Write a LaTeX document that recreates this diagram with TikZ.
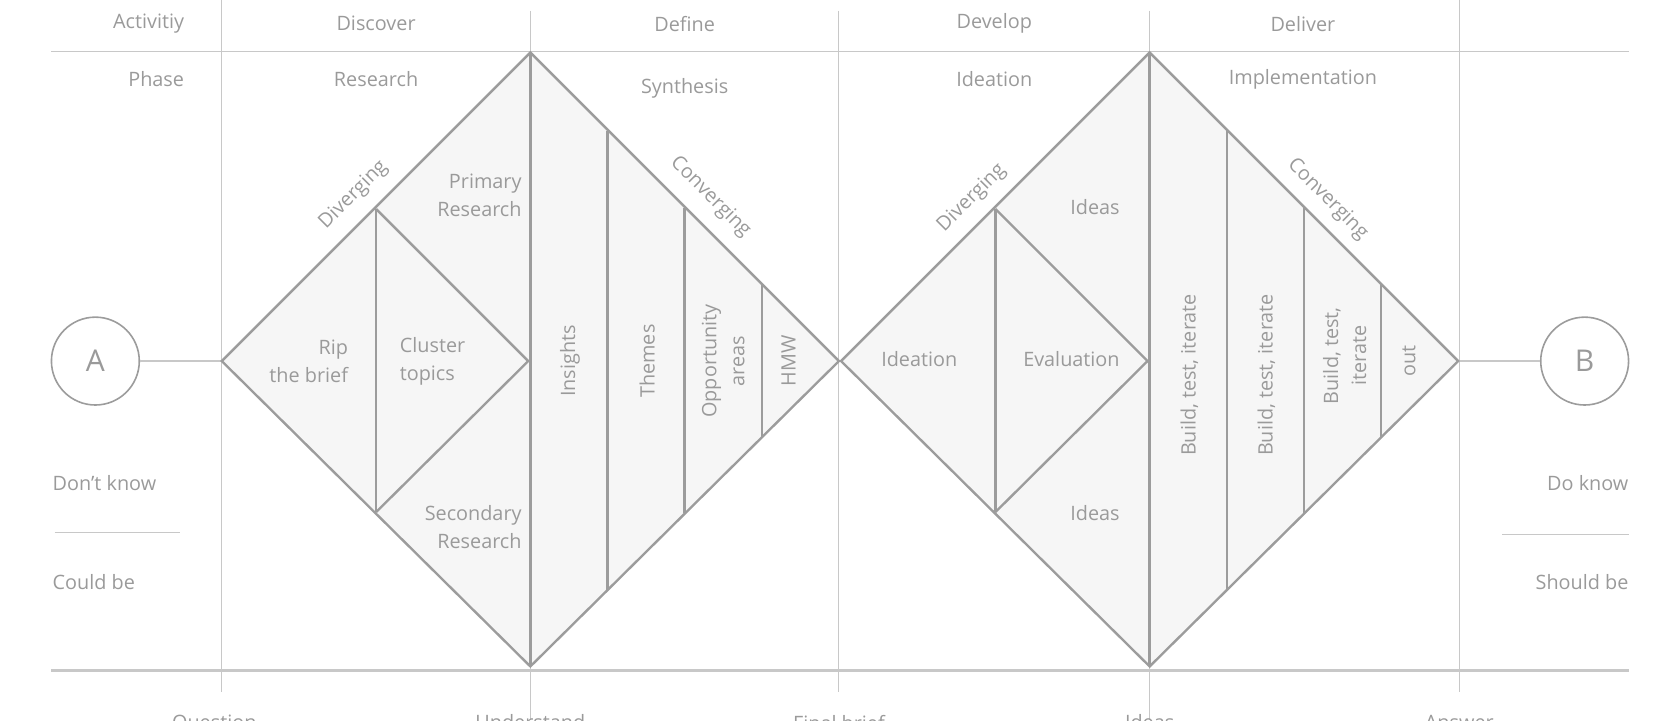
\documentclass[tikz,border=0pt]{standalone}
\usepackage{fontspec}
\setmainfont{Open Sans}
\begin{document}
\begin{tikzpicture}[x=1pt,y=-1pt,
  txt/.style={text=tg,font=\fontsize{18.5}{26}\selectfont,inner sep=0pt},
  shp/.style={draw=sg,line width=2.2pt,fill=fl,line join=miter},
  inn/.style={draw=sg,line width=2.2pt},
  grid/.style={draw=lg,line width=1pt},
  circ/.style={draw=sg,line width=1.5pt,circle,minimum size=82pt,inner sep=0pt,text=tg,font=\fontsize{28}{30}\selectfont}]
\definecolor{tg}{HTML}{9A9A9A}
\definecolor{sg}{HTML}{9C9C9C}
\definecolor{lg}{HTML}{C8C8C8}
\definecolor{fl}{HTML}{F6F6F6}
\useasboundingbox (0,0) rectangle (1568,672);
% grid
\draw[grid] (48,48) -- (1520,48);
\draw[draw=lg,line width=2.5pt] (48,626) -- (1520,626);
\draw[grid] (207,0) -- (207,646);
\draw[grid] (495,10) -- (495,672);
\draw[grid] (783,10) -- (783,646);
\draw[grid] (1073,10) -- (1073,672);
\draw[grid] (1362,0) -- (1362,646);
\draw[grid] (51,497) -- (168,497);
\draw[grid] (1402,499) -- (1520,499);
% circles
\node[circ] (A) at (89,337) {A};
\node[circ] (B) at (1479,337) {B};
\coordinate (L1) at (207,337);
\coordinate (R2) at (1361,337);
\draw[grid,line width=1.5pt] (A) -- (L1);
\draw[grid,line width=1.5pt] (R2) -- (B);
% diamond 1
\draw[shp] (207,337) -- (495,49) -- (783,337) -- (495,622) -- cycle;
\draw[inn] (351,195) -- (351,478);
\draw[inn] (351,195) -- (493,337) -- (351,478);
\draw[inn] (495,49) -- (495,622);
\draw[inn] (567,122) -- (567,551);
\draw[inn] (639,194) -- (639,479);
\draw[inn] (711,266) -- (711,408);
% diamond 2
\draw[shp] (785,337) -- (1073,49) -- (1361,337) -- (1073,622) -- cycle;
\draw[inn] (929,195) -- (929,478);
\draw[inn] (929,195) -- (1071,337) -- (929,478);
\draw[inn] (1073,49) -- (1073,622);
\draw[inn] (1145,122) -- (1145,551);
\draw[inn] (1217,194) -- (1217,479);
\draw[inn] (1289,266) -- (1289,408);
% header texts
\node[txt,anchor=east] (t1) at (172,22) {Activitiy};
\node[txt] (t2) at (351,22) {Discover};
\node[txt] (t3) at (639,22) {Define};
\node[txt] (t4) at (928,22) {Develop};
\node[txt] (t5) at (1216,22) {Deliver};
\node[txt,anchor=east] (p1) at (172,74) {Phase};
\node[txt] (p2) at (351,74) {Research};
\node[txt] (p3) at (639,82) {Synthesis};
\node[txt] (p4) at (928,74) {Ideation};
\node[txt] (p5) at (1216,74) {Implementation};
% diagonal labels
\node[txt,rotate=45] (dv1) at (330,182) {Diverging};
\node[txt,rotate=-45] (cv1) at (663,184) {Converging};
\node[txt,rotate=45] (dv2) at (907,185) {Diverging};
\node[txt,rotate=-45] (cv2) at (1239,186) {Converging};
% diamond 1 labels
\node[txt,align=right,anchor=east] (pr) at (487,182) {Primary\\Research};
\node[txt,align=right,anchor=east] (rb) at (325,337) {Rip\\the brief};
\node[txt,align=left,anchor=west] (ct) at (373,337) {Cluster\\topics};
\node[txt,align=right,anchor=east] (sr) at (487,492) {Secondary\\Research};
\node[txt,rotate=90] (ins) at (532,337) {Insights};
\node[txt,rotate=90] (th) at (604,337) {Themes};
\node[txt,rotate=90,align=center] (oa) at (675,337) {Opportunity\\areas};
\node[txt,rotate=90] (hmw) at (736,337) {HMW};
% diamond 2 labels
\node[txt] (id) at (858,335) {Ideation};
\node[txt] (ev) at (1000,335) {Evaluation};
\node[txt] (ia) at (1022,193) {Ideas};
\node[txt] (ib) at (1022,479) {Ideas};
\node[txt,rotate=90] (b1) at (1110,350) {Build, test, iterate};
\node[txt,rotate=90] (b2) at (1182,350) {Build, test, iterate};
\node[txt,rotate=90,align=center] (b3) at (1255,332) {Build, test,\\iterate};
\node[txt,rotate=90] (out) at (1315,337) {out};
% side labels
\node[txt,anchor=west] (dk) at (49,451) {Don't know};
\node[txt,anchor=west] (cb) at (49,543) {Could be};
\node[txt,anchor=east] (dok) at (1520,451) {Do know};
\node[txt,anchor=east] (sb) at (1520,543) {Should be};
% bottom (cut off by the page edge, as in the reference)
\node[txt,anchor=north] (q1) at (200,667) {Question};
\node[txt,anchor=north] (q2) at (495,667) {Understand};
\node[txt,anchor=north] (q3) at (783,667) {Final brief};
\node[txt,anchor=north] (q4) at (1073,667) {Ideas};
\node[txt,anchor=north] (q5) at (1362,667) {Answer};
\end{tikzpicture}
\end{document}
